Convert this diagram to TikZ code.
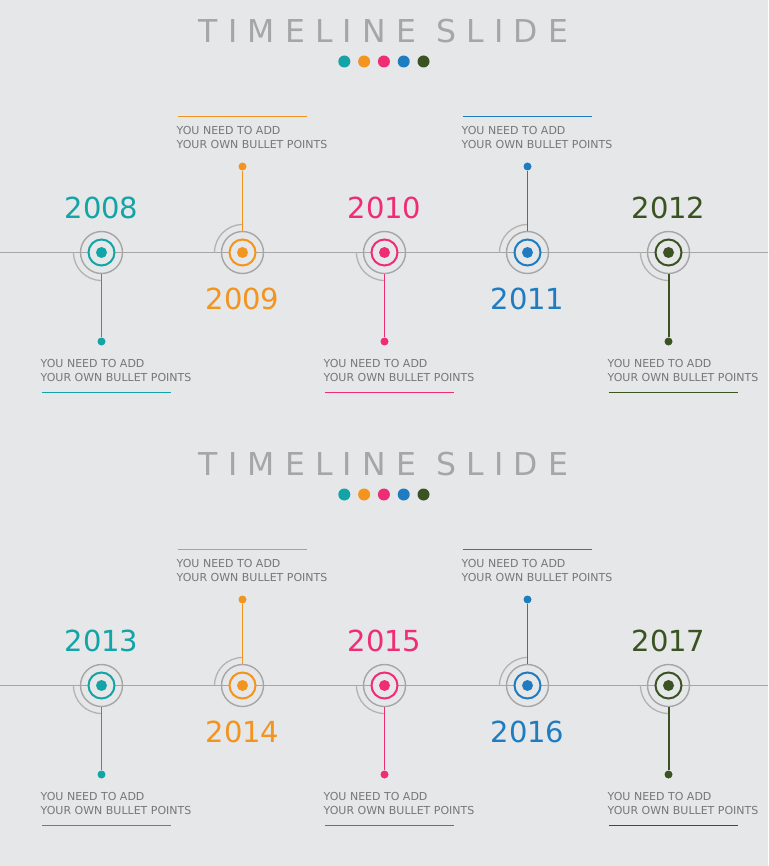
\documentclass[tikz,border=0pt]{standalone}
\usepackage{fontspec}
\setmainfont{DejaVu Sans}
\newfontfamily\titlefont[LetterSpace=32.5]{DejaVu Sans}

\definecolor{bgcol}{HTML}{E6E7E9}
\definecolor{tlgray}{HTML}{A6A6A6}
\definecolor{tltext}{HTML}{777777}
\definecolor{tlteal}{HTML}{12A4A6}
\definecolor{tlorange}{HTML}{F3941E}
\definecolor{tlpink}{HTML}{EF2D75}
\definecolor{tlblue}{HTML}{1F7CC1}
\definecolor{tlgreen}{HTML}{3B5323}

\tikzset{
  title/.style={font=\titlefont\fontsize{31.5}{31.5}\selectfont, text=tlgray, anchor=base, inner sep=0},
  year/.style={font=\fontsize{29}{29}\selectfont, anchor=base, inner sep=0},
  blurb/.style={font=\fontsize{11}{14}\selectfont, text=tltext, align=left, anchor=north west, inner sep=0},
  outer ring/.style={circle, draw=tlgray, line width=1.4, minimum size=42, inner sep=0},
  inner ring/.style={circle, draw=#1, fill=bgcol, line width=2, minimum size=26, inner sep=0},
  centre dot/.style={circle, fill=#1, minimum size=11, inner sep=0},
  end dot/.style={circle, fill=#1, minimum size=8, inner sep=0},
  axis/.style={tlgray, line width=1.5},
}

\begin{document}
\begin{tikzpicture}[x=1pt,y=-1pt]

\useasboundingbox (0,0) rectangle (768,866);
\fill[bgcol] (0,0) rectangle (768,866);
\clip (0,0) rectangle (768,866);

\foreach \p in {0,1}{
\begin{scope}[shift={(0.5,433*\p+0.5)}]

\node[title] (title\p) at (383,42) {TIMELINE SLIDE};
\foreach \c [count=\k] in {tlteal,tlorange,tlpink,tlblue,tlgreen}
  \fill[\c] (324+19.8*\k,61) circle (6);

\coordinate (axisL\p) at (-1,252);
\coordinate (axisR\p) at (768,252);
\draw[axis] (axisL\p) -- (axisR\p);

\foreach \i/\cx/\col/\sd/\lw in {0/101/tlteal/1/1.4, 1/242/tlorange/-1/1.4, 2/384/tlpink/1/1.4, 3/527/tlblue/-1/1.4, 4/668/tlgreen/1/2}{
  \pgfmathtruncatemacro\yr{2008+5*\p+\i}
  \pgfmathsetmacro\ey{\sd>0 ? 341 : 166}
  \pgfmathsetmacro\yy{\sd>0 ? 218 : 308.5}
  \pgfmathsetmacro\tx{\sd>0 ? \cx-61 : \cx-66}
  \pgfmathsetmacro\ty{\sd>0 ? 359 : 126}
  \pgfmathsetmacro\ly{\sd>0 ? 392 : 116}
  \pgfmathsetmacro\ea{\sd>0 ? 90 : 270}

  % rings and centre
  \draw[tlgray!85, line width=1.3] (\cx-28,252) arc[start angle=180, end angle=\ea, radius=28];
  \node[outer ring] (g\p\i) at (\cx,252) {};
  \node[inner ring=\col] (r\p\i) at (\cx,252) {};
  \node[centre dot=\col] (c\p\i) at (\cx,252) {};

  % stem to end dot
  \node[end dot=\col] (e\p\i) at (\cx,\ey) {};
  \draw[\col, line width=\lw] (g\p\i) -- (e\p\i);

  \node[year, text=\col] (y\p\i) at (\cx,\yy) {\yr};
  \node[blurb] (t\p\i) at (\tx,\ty) {YOU NEED TO ADD\\YOUR OWN BULLET POINTS};
  \draw[\col, line width=1.5] (\tx+1,\ly) -- (\tx+130,\ly);
}

\end{scope}
}

\end{tikzpicture}
\end{document}
